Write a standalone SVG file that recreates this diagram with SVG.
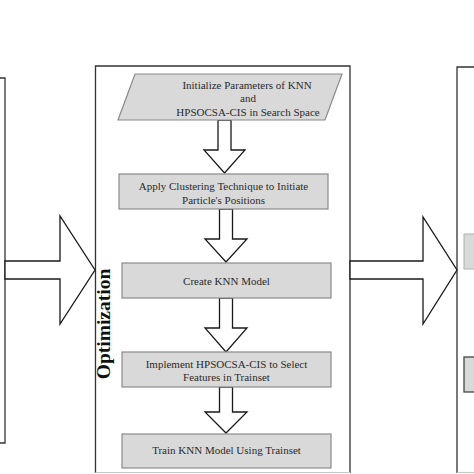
<svg xmlns="http://www.w3.org/2000/svg" width="474" height="474" viewBox="0 0 474 474">
<style>
.panel{fill:#ffffff;stroke:#333333;stroke-width:1.3}
.box{fill:#d9d9d9;stroke:#8a8a8a;stroke-width:1.2}
.arrow{fill:#ffffff;stroke:#1a1a1a;stroke-width:1.3;stroke-linejoin:miter}
.t{font-family:"Liberation Serif","Times New Roman",serif;font-size:11px;fill:#2a2a2a;text-anchor:middle}
.title{font-family:"Liberation Serif","Times New Roman",serif;font-size:19.5px;font-weight:bold;fill:#111111;text-anchor:middle}
</style>
<rect width="474" height="474" fill="#ffffff"/>
<g id="left-panel">
<path class="panel" d="M-2,78 H5 V443 H-2" fill="none"/>
</g>
<g id="optimization-panel">
<rect x="95.5" y="66" width="254.5" height="407" fill="#ffffff" stroke="none"/>
<path d="M95.5,473 V66 H350 V473" fill="none" stroke="#333333" stroke-width="1.3"/>
<line x1="95.5" y1="472.5" x2="350" y2="472.5" stroke="#c8c8c8" stroke-width="1.2"/>
<text class="title" transform="translate(110,324) rotate(-90)">Optimization</text>
</g>
<g id="right-panel">
<path d="M457,473 V67 H480" fill="none" stroke="#333333" stroke-width="1.3"/>
<line x1="457" y1="472.5" x2="480" y2="472.5" stroke="#c8c8c8" stroke-width="1.2"/>
<rect x="464" y="234" width="20" height="35" fill="#d9d9d9" stroke="#b0b0b0" stroke-width="1"/>
<rect x="464" y="357" width="20" height="35" fill="#d9d9d9" stroke="#444444" stroke-width="1.3"/>
</g>
<g id="connectors">
<polygon class="arrow" points="5,261 60,261 60,216 95,270 60,324 60,279 5,279"/>
<polygon class="arrow" points="350,261 423,261 423,217 457,270 423,324 423,279 350,279"/>
<polygon class="arrow" points="218,120 231,120 231,150 245,150 224.5,173 204,150 218,150"/>
<polygon class="arrow" points="219.5,209 232.5,209 232.5,239 247,239 226,262 205,239 219.5,239"/>
<polygon class="arrow" points="219.5,298 232.5,298 232.5,328 247,328 226,352 205,328 219.5,328"/>
<polygon class="arrow" points="219.5,387 232.5,387 232.5,412 247,412 226,433 205,412 219.5,412"/>
</g>
<g id="n1">
<polygon class="box" points="135,74 342,74 325,120 118,120"/>
<text class="t" x="247" y="89">Initialize Parameters of KNN</text>
<text class="t" x="248" y="102">and</text>
<text class="t" x="248" y="116">HPSOCSA-CIS in Search Space</text>
</g>
<g id="n2">
<rect class="box" x="119" y="174" width="209" height="35"/>
<text class="t" x="223.5" y="189.5">Apply Clustering Technique to Initiate</text>
<text class="t" x="223.5" y="204">Particle's Positions</text>
</g>
<g id="n3">
<rect class="box" x="122" y="263" width="209" height="35"/>
<text class="t" x="226.5" y="284.5">Create KNN Model</text>
</g>
<g id="n4">
<rect class="box" x="122" y="352" width="209" height="35"/>
<text class="t" x="226.5" y="367.5">Implement HPSOCSA-CIS to Select</text>
<text class="t" x="226.5" y="380.5">Features in Trainset</text>
</g>
<g id="n5">
<rect class="box" x="122" y="434" width="209" height="34"/>
<text class="t" x="226.5" y="454">Train KNN Model Using Trainset</text>
</g>
</svg>
